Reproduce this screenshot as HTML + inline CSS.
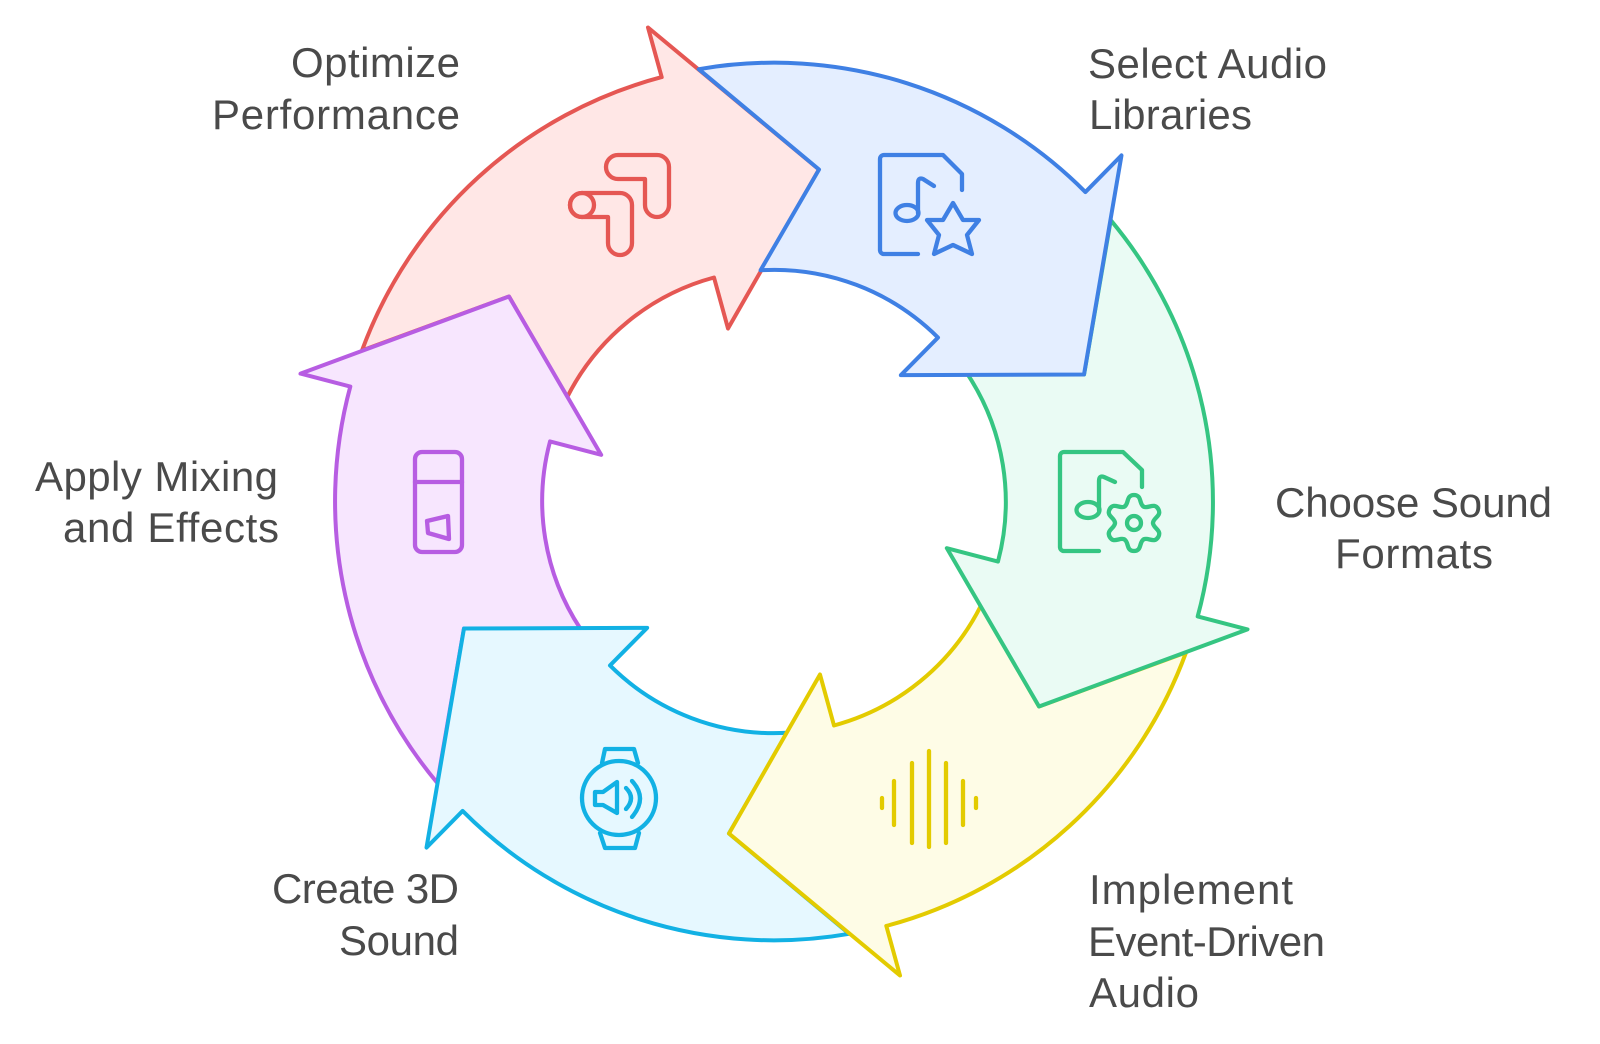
<!DOCTYPE html>
<html lang="en">
<head>
<meta charset="utf-8">
<title>Audio cycle</title>
<style>
html,body{margin:0;padding:0;background:#fff;width:1600px;height:1044px;overflow:hidden}
svg{display:block}
text{font-family:"Liberation Sans",Arial,sans-serif;font-size:42px;fill:#4a4a4a}
.i{fill:none;stroke-width:4.3;stroke-linecap:round;stroke-linejoin:round}
</style>
</head>
<body>
<svg width="1600" height="1044" viewBox="0 0 1600 1044" xmlns="http://www.w3.org/2000/svg">
<g stroke-width="4" stroke-linejoin="round">
<g transform="translate(774 501.5)" fill="#ffe7e6" stroke="#e55753"><path d="M-412 -151A439 439 0 0 1 -112.3 -424.4L-126 -474L45 -332L-46 -173L-60 -224A232 232 0 0 0 -207 -104L-265 -205Z"/></g>
<g transform="translate(774 501.5) rotate(-60)" fill="#f7e6fe" stroke="#b75de2"><path d="M-412 -151A439 439 0 0 1 -112.3 -424.4L-126 -474L45 -332L-46 -173L-60 -224A232 232 0 0 0 -207 -104L-265 -205Z"/></g>
<g transform="translate(774 501.5) rotate(-120)" fill="#e6f8ff" stroke="#12b1e4"><path d="M-412 -151A439 439 0 0 1 -112.3 -424.4L-126 -474L45 -332L-46 -173L-60 -224A232 232 0 0 0 -207 -104L-265 -205Z"/></g>
<g transform="translate(774 501.5) rotate(180)" fill="#fefce6" stroke="#e3cb00"><path d="M-412 -151A439 439 0 0 1 -112.3 -424.4L-126 -474L45 -332L-46 -173L-60 -224A232 232 0 0 0 -207 -104L-265 -205Z"/></g>
<g transform="translate(774 501.5) rotate(120)" fill="#eafbf4" stroke="#35c582"><path d="M-412 -151A439 439 0 0 1 -112.3 -424.4L-126 -474L45 -332L-46 -173L-60 -224A232 232 0 0 0 -207 -104L-265 -205Z"/></g>
<g transform="translate(774 501.5) rotate(60)" fill="#e4eeff" stroke="#3f80e4"><path d="M-412 -151A439 439 0 0 1 -112.3 -424.4L-126 -474L45 -332L-46 -173L-60 -224A232 232 0 0 0 -207 -104L-265 -205Z"/></g>
</g>

<!-- red icon -->
<g class="i" stroke="#e55753">
<path d="M618 155H657A12 12 0 0 1 669 167V205A12 12 0 0 1 645 205V179H618A12 12 0 0 1 618 155Z"/>
<path d="M582 193H620A12 12 0 0 1 632 205V243A12 12 0 0 1 608 243V217H582A12 12 0 0 1 582 193Z"/>
<circle cx="582" cy="205" r="12"/>
</g>
<!-- blue icon -->
<g class="i" stroke="#3f80e4">
<path d="M918 254H884A4 4 0 0 1 880 250V159A4 4 0 0 1 884 155H943L962 174V190"/>
<path d="M918 213V183Q918 177 923 179L934 186"/>
<ellipse cx="907" cy="213" rx="11.5" ry="8"/>
<path d="M953 203L963 220H979L967 235L972 254L953 245L934 254L939 235L927 220H943Z"/>
</g>
<!-- green icon -->
<g class="i" stroke="#35c582">
<path d="M1099 551H1064A4 4 0 0 1 1060 547V456A4 4 0 0 1 1064 452H1123L1142 470V487"/>
<path d="M1099 510V481Q1099 475 1104 477L1115 482"/>
<ellipse cx="1088" cy="510" rx="11.5" ry="8"/>
<circle cx="1134" cy="523" r="7"/>
<g transform="translate(1134 523)">
<path d="M-9.5 -16.45C-5 -19 -8 -28 0 -28C8 -28 5 -19 9.5 -16.45"/>
<path transform="rotate(60)" d="M-9.5 -16.45C-5 -19 -8 -28 0 -28C8 -28 5 -19 9.5 -16.45"/>
<path transform="rotate(120)" d="M-9.5 -16.45C-5 -19 -8 -28 0 -28C8 -28 5 -19 9.5 -16.45"/>
<path transform="rotate(180)" d="M-9.5 -16.45C-5 -19 -8 -28 0 -28C8 -28 5 -19 9.5 -16.45"/>
<path transform="rotate(240)" d="M-9.5 -16.45C-5 -19 -8 -28 0 -28C8 -28 5 -19 9.5 -16.45"/>
<path transform="rotate(300)" d="M-9.5 -16.45C-5 -19 -8 -28 0 -28C8 -28 5 -19 9.5 -16.45"/>
</g>
</g>
<!-- yellow icon -->
<g class="i" stroke="#e3cb00">
<path d="M882 798V808M894 781V825M912 763V843M929 751V847M946 763V843M963 781V825M976 798V808"/>
</g>
<!-- cyan icon -->
<g class="i" stroke="#12b1e4">
<circle cx="619" cy="798" r="37"/>
<path d="M602 763L605 749H634L638 763"/>
<path d="M600 833L605 848H635L639 833"/>
<path d="M595 792H603L617 782V813L603 805H595Z"/>
<path d="M626 788Q636 798 626 809"/>
<path d="M632 781Q648 798 632 817"/>
</g>
<!-- purple icon -->
<g class="i" stroke="#b75de2">
<rect x="415" y="452" width="47" height="100" rx="7"/>
<path d="M415 482H462"/>
<path d="M427 521L448 516L449 539L428 533Z"/>
</g>

<!-- labels -->
<text x="291" y="77" textLength="169">Optimize</text>
<text x="212" y="129" textLength="248">Performance</text>
<text x="1088" y="78" textLength="239">Select Audio</text>
<text x="1089" y="129" textLength="163">Libraries</text>
<text x="1275" y="517" textLength="277">Choose Sound</text>
<text x="1335" y="568" textLength="158">Formats</text>
<text x="1089" y="904" textLength="204">Implement</text>
<text x="1088" y="956" textLength="237">Event-Driven</text>
<text x="1089" y="1007" textLength="110">Audio</text>
<text x="272" y="903" textLength="187">Create 3D</text>
<text x="339" y="955" textLength="120">Sound</text>
<text x="35" y="491" textLength="243">Apply Mixing</text>
<text x="63" y="542" textLength="216">and Effects</text>
</svg>
</body>
</html>
